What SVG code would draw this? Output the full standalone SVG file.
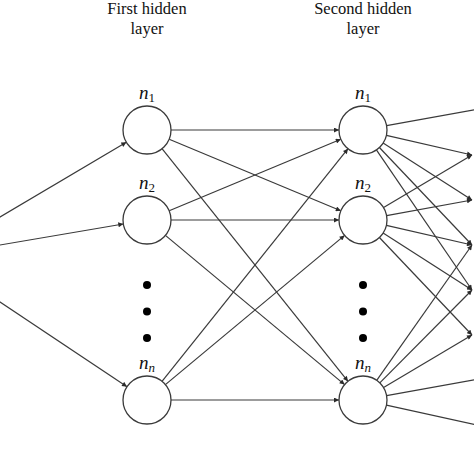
<svg xmlns="http://www.w3.org/2000/svg" width="474" height="474" viewBox="0 0 474 474">
<style>
.node{fill:#fff;stroke:#3a3a3a;stroke-width:1.3}
.edge{fill:none;stroke:#3a3a3a;stroke-width:1.2}
.arr{marker-end:url(#ah)}
.dot{fill:#000}
.hdr{font-family:"Liberation Serif","Times New Roman",serif;font-size:16.5px;fill:#111;text-anchor:middle}
.lbl{font-family:"Liberation Serif","Times New Roman",serif;font-size:19px;fill:#111;font-style:italic}
.sub{font-size:13px;font-style:normal}
.subi{font-size:13px;font-style:italic}
</style>
<defs>
<marker id="ah" viewBox="0 0 10 10" refX="10" refY="5" markerWidth="6" markerHeight="5" markerUnits="userSpaceOnUse" orient="auto">
<path d="M0,0 L10,5 L0,10 z" fill="#2a2a2a"/>
</marker>
</defs>
<rect width="474" height="474" fill="#fff"/>
<g id="headers">
<text class="hdr" x="147" y="14">First hidden</text>
<text class="hdr" x="147" y="33.5">layer</text>
<text class="hdr" x="363" y="14">Second hidden</text>
<text class="hdr" x="363" y="33.5">layer</text>
</g>
<g id="connectors">
<line class="edge arr" x1="-10" y1="222.9" x2="126.3" y2="142.2"/>
<line class="edge arr" x1="-10" y1="246.7" x2="123.3" y2="224.0"/>
<line class="edge arr" x1="-10" y1="295.3" x2="127.0" y2="386.7"/>
<line class="edge arr" x1="171" y1="130" x2="339" y2="130"/>
<line class="edge arr" x1="169.2" y1="139.2" x2="340.8" y2="210.8"/>
<line class="edge arr" x1="162.0" y1="148.7" x2="348.0" y2="381.3"/>
<line class="edge arr" x1="169.2" y1="210.8" x2="340.8" y2="139.2"/>
<line class="edge arr" x1="171" y1="220" x2="339" y2="220"/>
<line class="edge arr" x1="165.4" y1="235.4" x2="344.6" y2="384.6"/>
<line class="edge arr" x1="162.0" y1="381.3" x2="348.0" y2="148.7"/>
<line class="edge arr" x1="165.4" y1="384.6" x2="344.6" y2="235.4"/>
<line class="edge arr" x1="171" y1="400" x2="339" y2="400"/>
<line class="edge" x1="386.6" y1="125.7" x2="490" y2="106.9"/>
<line class="edge arr" x1="386.4" y1="135.4" x2="472" y2="155"/>
<line class="edge arr" x1="383.1" y1="143.1" x2="472" y2="200"/>
<line class="edge arr" x1="379.4" y1="147.5" x2="472" y2="245"/>
<line class="edge arr" x1="376.4" y1="149.9" x2="472" y2="290"/>
<line class="edge arr" x1="383.6" y1="207.6" x2="472" y2="155"/>
<line class="edge arr" x1="386.6" y1="215.6" x2="472" y2="200"/>
<line class="edge arr" x1="386.4" y1="225.4" x2="472" y2="245"/>
<line class="edge arr" x1="383.1" y1="233.1" x2="472" y2="290"/>
<line class="edge arr" x1="379.4" y1="237.5" x2="472" y2="335"/>
<line class="edge arr" x1="376.7" y1="380.3" x2="472" y2="245"/>
<line class="edge arr" x1="379.8" y1="382.9" x2="472" y2="290"/>
<line class="edge arr" x1="383.6" y1="387.6" x2="472" y2="335"/>
<line class="edge" x1="386.6" y1="395.7" x2="490" y2="376.9"/>
<line class="edge" x1="386.4" y1="405.2" x2="490" y2="427.9"/>
</g>
<g id="l1n1"><circle class="node" cx="147" cy="130" r="24"/><text class="lbl" x="139" y="99">n<tspan class="sub" dy="3">1</tspan></text></g>
<g id="l1n2"><circle class="node" cx="147" cy="220" r="24"/><text class="lbl" x="139" y="189">n<tspan class="sub" dy="3">2</tspan></text></g>
<g id="l1dots"><circle class="dot" cx="147" cy="285" r="4"/><circle class="dot" cx="147" cy="311.5" r="4"/><circle class="dot" cx="147" cy="338" r="4"/></g>
<g id="l1nn"><circle class="node" cx="147" cy="400" r="24"/><text class="lbl" x="139" y="369">n<tspan class="subi" dy="3">n</tspan></text></g>
<g id="l2n1"><circle class="node" cx="363" cy="130" r="24"/><text class="lbl" x="355" y="99">n<tspan class="sub" dy="3">1</tspan></text></g>
<g id="l2n2"><circle class="node" cx="363" cy="220" r="24"/><text class="lbl" x="355" y="189">n<tspan class="sub" dy="3">2</tspan></text></g>
<g id="l2dots"><circle class="dot" cx="363" cy="285" r="4"/><circle class="dot" cx="363" cy="311.5" r="4"/><circle class="dot" cx="363" cy="338" r="4"/></g>
<g id="l2nn"><circle class="node" cx="363" cy="400" r="24"/><text class="lbl" x="355" y="369">n<tspan class="subi" dy="3">n</tspan></text></g>
</svg>
